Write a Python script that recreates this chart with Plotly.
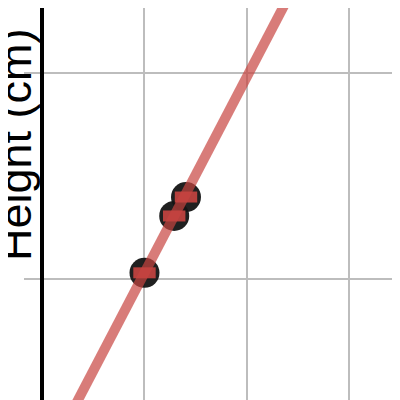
"""Height vs measurement scatter with fitted line (zoomed view)."""

import plotly.graph_objects as go

# Data points
x_points = [10.0, 12.9, 14.05]
y_points = [151.5, 165.3, 169.9]

# Fitted line y = slope * x + intercept, drawn across the visible range
slope = 4.762
intercept = 103.9
line_x = [-2.0, 36.0]
line_y = [slope * x + intercept for x in line_x]

x_ticks = [0, 10, 20, 30]
y_ticks = [100, 150, 200, 250]

fig = go.Figure()

# black halos under the line
fig.add_trace(go.Scatter(
    x=x_points, y=y_points, mode='markers',
    marker=dict(size=30, color='rgba(20,20,20,0.95)'),
    hoverinfo='skip', showlegend=False
))

# regression line
fig.add_trace(go.Scatter(
    x=line_x, y=line_y, mode='lines',
    line=dict(color='rgba(199,68,64,0.7)', width=10),
    hoverinfo='skip', showlegend=False
))

# red centres
fig.add_trace(go.Scatter(
    x=x_points, y=y_points, mode='markers',
    marker=dict(symbol='line-ew', size=16,
                line=dict(color='rgba(199,68,64,0.9)', width=11)),
    hoverinfo='skip', showlegend=False
))

fig.add_annotation(
    text='Height (cm)', textangle=-90,
    xref='paper', yref='paper', x=-0.0239, y=0.6505,
    xanchor='center', yanchor='middle', showarrow=False,
    font=dict(family='Liberation Sans, Arial', size=45, color='black')
)

# the page adds an 8px body margin, so the plot is laid out 8px up/left
fig.update_layout(
    width=392, height=392,
    margin=dict(l=16, r=0, t=0, b=0),
    plot_bgcolor='white', paper_bgcolor='white',
    xaxis=dict(range=[-1.756, 34.93], tickvals=x_ticks, showticklabels=False,
               showgrid=True, gridcolor='#bdbdbd', gridwidth=2,
               zeroline=True, zerolinecolor='black', zerolinewidth=4,
               showline=False, ticks=''),
    yaxis=dict(range=[120.63, 215.78], tickvals=y_ticks, showticklabels=False,
               showgrid=True, gridcolor='#bdbdbd', gridwidth=2,
               zeroline=False, showline=False, ticks=''),
)

fig.write_html("out.html")
